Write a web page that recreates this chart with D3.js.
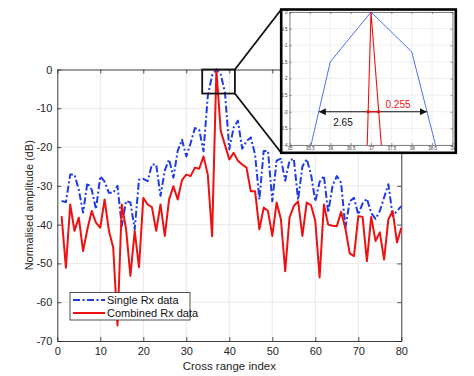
<!DOCTYPE html>
<html>
<head>
<meta charset="utf-8">
<script src="https://cdn.jsdelivr.net/npm/d3@7"></script>
<style>
  body { margin: 0; background: #fff; }
  text { font-family: "Liberation Sans", Arial, sans-serif; }
</style>
</head>
<body>
<svg id="chart" width="474" height="376"></svg>
<script>
// cross range index 1..80
const crossIndex = d3.range(1, 81);

const singleRx = [
  -33.9, -34.2, -27.1, -27.1, -31.0, -36.9, -29.2, -31.0, -36.0, -27.5,
  -28.9, -31.8, -31.8, -30.0, -40.4, -33.9, -34.3, -41.2, -28.4, -28.2,
  -28.8, -24.5, -24.5, -32.6, -26.0, -23.2, -27.9, -21.0, -18.1, -22.4,
  -19.0, -15.1, -15.5, -21.1, -6.8, -1.5, 0, -1.2, -6.0, -20.6,
  -15.0, -13.2, -20.4, -18.5, -17.5, -22.0, -33.5, -21.0, -21.0, -34.0,
  -23.5, -23.0, -28.7, -23.5, -23.0, -33.6, -25.0, -23.1, -27.0, -34.0,
  -29.0, -27.4, -36.9, -30.0, -27.5, -29.2, -40.8, -34.0, -33.1, -37.4,
  -34.5, -33.3, -37.0, -38.5, -36.5, -33.0, -29.6, -37.8, -36.5, -35.2
];

const combinedRx = [
  -37.8, -51.1, -34.8, -41.6, -38.2, -46.8, -41.2, -36.5, -39.5, -40.8,
  -33.5, -41.6, -45.9, -66.0, -34.8, -41.2, -53.2, -41.6, -51.0, -33.1,
  -34.8, -35.5, -41.6, -34.8, -42.9, -33.5, -30.1, -33.5, -28.5, -27.1,
  -27.5, -25.3, -25.6, -22.4, -27.1, -43.0, 0, -15.8, -19.5, -23.2,
  -21.5, -23.5, -24.5, -25.3, -31.4, -31.4, -41.2, -35.6, -36.5, -42.9,
  -34.3, -38.6, -52.0, -38.2, -35.2, -34.0, -42.9, -34.3, -35.0, -39.0,
  -53.6, -34.8, -40.0, -40.3, -40.4, -36.7, -41.0, -47.4, -48.1, -37.8,
  -38.0, -49.4, -38.0, -44.2, -42.0, -49.0, -38.6, -36.5, -44.6, -40.8
];

const xTicks = [0, 10, 20, 30, 40, 50, 60, 70, 80];
const yTicks = [0, -10, -20, -30, -40, -50, -60, -70];
const insetXTicks = [35, 35.5, 36, 36.5, 37, 37.5, 38, 38.5, 39];
const insetYTicks = [0, -0.5, -1, -1.5, -2, -2.5, -3, -3.5, -4];
const seriesNames = ["Single Rx data", "Combined Rx data"];

// zoomed region marked on the main plot
const zoomRegionX = [33.7, 41.3];
const zoomRegionY = [0, -6.2];

// -3 dB widths
const widthLevel = -3;
const singleWidth = [35.72, 38.37];
const combinedWidth = [36.93, 37.185];
const widthLabels = ["2.65", "0.255"];

const blue = "#1f3be6";
const red = "#ee1111";
const plain = d => String(d);   // hyphen minus, no trailing zeros

const svg = d3.select("#chart");

// ---------- main plot ----------
const x = d3.scaleLinear().domain([0, 80]).range([57.3, 401.3]);
const y = d3.scaleLinear().domain([-70, 0]).range([341, 69.5]);

const main = svg.append("g");

// grid
main.append("g").selectAll("line").data(xTicks.slice(1, -1)).join("line")
  .attr("x1", d => x(d)).attr("x2", d => x(d))
  .attr("y1", y(-70)).attr("y2", y(0))
  .attr("stroke", "#e4e4e4").attr("stroke-width", 0.8);
main.append("g").selectAll("line").data(yTicks.slice(1, -1)).join("line")
  .attr("x1", x(0)).attr("x2", x(80))
  .attr("y1", d => y(d)).attr("y2", d => y(d))
  .attr("stroke", "#e4e4e4").attr("stroke-width", 0.8);

function styleAxis(g) {
  g.selectAll("path.domain").attr("stroke", "#262626").attr("stroke-width", 0.9);
  g.selectAll(".tick line").attr("stroke", "#262626").attr("stroke-width", 0.8);
  g.selectAll("text").attr("fill", "#262626").attr("font-size", 11)
    .style("font-family", "'Liberation Sans', Arial, sans-serif");
}

main.append("g").attr("transform", `translate(0,${y(-70)})`)
  .call(d3.axisBottom(x).tickValues(xTicks).tickFormat(plain)
    .tickSizeInner(-4).tickSizeOuter(0).tickPadding(6))
  .call(styleAxis);
main.append("g").attr("transform", `translate(0,${y(0)})`)
  .call(d3.axisTop(x).tickValues(xTicks).tickSizeInner(-4).tickSizeOuter(0).tickFormat(""))
  .call(styleAxis);
main.append("g").attr("transform", `translate(${x(0)},0)`)
  .call(d3.axisLeft(y).tickValues(yTicks).tickFormat(plain)
    .tickSizeInner(-4).tickSizeOuter(0).tickPadding(5))
  .call(styleAxis);
main.append("g").attr("transform", `translate(${x(80)},0)`)
  .call(d3.axisRight(y).tickValues(yTicks).tickSizeInner(-4).tickSizeOuter(0).tickFormat(""))
  .call(styleAxis);

// axis titles
svg.append("text")
  .attr("x", (x(0) + x(80)) / 2).attr("y", 370)
  .attr("text-anchor", "middle").attr("font-size", 11.5).attr("fill", "#262626")
  .text("Cross range index");
svg.append("text")
  .attr("transform", `translate(33,${(y(0) + y(-70)) / 2}) rotate(-90)`)
  .attr("text-anchor", "middle").attr("font-size", 11).attr("fill", "#262626")
  .text("Normalised amplitude (dB)");

// series
const line = d3.line().x(d => x(d[0])).y(d => y(d[1]));
main.append("path")
  .datum(crossIndex.map((d, i) => [d, singleRx[i]]))
  .attr("d", line).attr("fill", "none")
  .attr("stroke", blue).attr("stroke-width", 2)
  .attr("stroke-dasharray", "7,2.5,2,2.5")
  .attr("stroke-linejoin", "round");
main.append("path")
  .datum(crossIndex.map((d, i) => [d, combinedRx[i]]))
  .attr("d", line).attr("fill", "none")
  .attr("stroke", red).attr("stroke-width", 2)
  .attr("stroke-linejoin", "round");

// legend
const legend = svg.append("g").attr("transform", "translate(70,292.5)");
legend.append("rect").attr("width", 120).attr("height", 27.5)
  .attr("fill", "#fff").attr("stroke", "#262626").attr("stroke-width", 0.8);
seriesNames.forEach((name, i) => {
  const ly = 7.5 + i * 13;
  legend.append("line").attr("x1", 3).attr("x2", 35).attr("y1", ly).attr("y2", ly)
    .attr("stroke", i === 0 ? blue : red).attr("stroke-width", 2)
    .attr("stroke-dasharray", i === 0 ? "7,2.5,2,2.5" : null);
  legend.append("text").attr("x", 37).attr("y", ly).attr("dy", "0.35em")
    .attr("font-size", 11).attr("fill", "#111").text(name);
});

// zoom region rectangle
svg.append("rect")
  .attr("x", x(zoomRegionX[0])).attr("y", y(zoomRegionY[0]))
  .attr("width", x(zoomRegionX[1]) - x(zoomRegionX[0]))
  .attr("height", y(zoomRegionY[1]) - y(zoomRegionY[0]))
  .attr("fill", "none").attr("stroke", "#111").attr("stroke-width", 1.8);

// ---------- inset ----------
const box = { left: 281.2, top: 9.5, right: 455.8, bottom: 152.8 };

svg.append("line")
  .attr("x1", x(zoomRegionX[1])).attr("y1", y(zoomRegionY[0]))
  .attr("x2", box.left).attr("y2", box.top)
  .attr("stroke", "#111").attr("stroke-width", 1.8);
svg.append("line")
  .attr("x1", x(zoomRegionX[1])).attr("y1", y(zoomRegionY[1]))
  .attr("x2", box.left).attr("y2", box.bottom)
  .attr("stroke", "#111").attr("stroke-width", 1.8);

const inset = svg.append("g");
inset.append("rect")
  .attr("x", box.left).attr("y", box.top)
  .attr("width", box.right - box.left).attr("height", box.bottom - box.top)
  .attr("fill", "#fff");

const ix = d3.scaleLinear().domain([35, 39]).range([289.5, 452.5]);
const iy = d3.scaleLinear().domain([-4, 0]).range([145, 12]);

inset.append("g").selectAll("line").data(insetXTicks).join("line")
  .attr("x1", d => ix(d)).attr("x2", d => ix(d))
  .attr("y1", iy(-4)).attr("y2", iy(0))
  .attr("stroke", "#e6e6e6").attr("stroke-width", 0.6);
inset.append("g").selectAll("line").data(insetYTicks).join("line")
  .attr("x1", ix(35)).attr("x2", ix(39))
  .attr("y1", d => iy(d)).attr("y2", d => iy(d))
  .attr("stroke", "#e6e6e6").attr("stroke-width", 0.6);

function styleInsetAxis(g) {
  g.selectAll("path.domain").attr("stroke", "#333").attr("stroke-width", 0.6);
  g.selectAll(".tick line").attr("stroke", "#333").attr("stroke-width", 0.5);
  g.selectAll("text").attr("fill", "#333").attr("font-size", 4.5)
    .style("font-family", "'Liberation Sans', Arial, sans-serif");
}
inset.append("g").attr("transform", `translate(0,${iy(-4)})`)
  .call(d3.axisBottom(ix).tickValues(insetXTicks).tickFormat(plain)
    .tickSizeInner(-2).tickSizeOuter(0).tickPadding(2))
  .call(styleInsetAxis);
inset.append("g").attr("transform", `translate(${ix(35)},0)`)
  .call(d3.axisLeft(iy).tickValues(insetYTicks).tickFormat(plain)
    .tickSizeInner(-2).tickSizeOuter(0).tickPadding(2))
  .call(styleInsetAxis);
inset.append("g").attr("transform", `translate(0,${iy(0)})`)
  .call(d3.axisTop(ix).tickValues(insetXTicks).tickSizeInner(-2).tickSizeOuter(0).tickFormat(""))
  .call(styleInsetAxis);
inset.append("g").attr("transform", `translate(${ix(39)},0)`)
  .call(d3.axisRight(iy).tickValues(insetYTicks).tickSizeInner(-2).tickSizeOuter(0).tickFormat(""))
  .call(styleInsetAxis);

svg.append("clipPath").attr("id", "insetClip").append("rect")
  .attr("x", ix(35)).attr("y", iy(0))
  .attr("width", ix(39) - ix(35)).attr("height", iy(-4) - iy(0));

const iline = d3.line().x(d => ix(d[0])).y(d => iy(d[1]));
const insetLines = inset.append("g").attr("clip-path", "url(#insetClip)");
insetLines.append("path")
  .datum(crossIndex.map((d, i) => [d, singleRx[i]]))
  .attr("d", iline).attr("fill", "none").attr("stroke", "#3d5cf0").attr("stroke-width", 0.9);
insetLines.append("path")
  .datum(crossIndex.map((d, i) => [d, combinedRx[i]]))
  .attr("d", iline).attr("fill", "none").attr("stroke", red).attr("stroke-width", 1.1);

// -3 dB width markers
const defs = svg.append("defs");
defs.append("marker").attr("id", "arrowEnd")
  .attr("viewBox", "0 0 10 10").attr("refX", 10).attr("refY", 5)
  .attr("markerWidth", 7).attr("markerHeight", 7).attr("markerUnits", "userSpaceOnUse")
  .attr("orient", "auto-start-reverse")
  .append("path").attr("d", "M0,0 L10,5 L0,10 z").attr("fill", "#111");

inset.append("line")
  .attr("x1", ix(singleWidth[0])).attr("x2", ix(singleWidth[1]))
  .attr("y1", iy(widthLevel)).attr("y2", iy(widthLevel))
  .attr("stroke", "#111").attr("stroke-width", 1.2)
  .attr("marker-start", "url(#arrowEnd)").attr("marker-end", "url(#arrowEnd)");
inset.append("line")
  .attr("x1", ix(combinedWidth[0])).attr("x2", ix(combinedWidth[1]))
  .attr("y1", iy(widthLevel)).attr("y2", iy(widthLevel))
  .attr("stroke", red).attr("stroke-width", 1.2);
inset.selectAll("circle.w").data(combinedWidth).join("circle")
  .attr("class", "w").attr("cx", d => ix(d)).attr("cy", iy(widthLevel))
  .attr("r", 1.8).attr("fill", red);

inset.append("text")
  .attr("x", 343).attr("y", iy(widthLevel) + 14)
  .attr("text-anchor", "middle").attr("font-size", 10).attr("fill", "#111")
  .text(widthLabels[0]);
inset.append("text")
  .attr("x", 398).attr("y", iy(widthLevel) - 4)
  .attr("text-anchor", "middle").attr("font-size", 10).attr("fill", red)
  .text(widthLabels[1]);

// thick frame
inset.append("rect")
  .attr("x", box.left).attr("y", box.top)
  .attr("width", box.right - box.left).attr("height", box.bottom - box.top)
  .attr("fill", "none").attr("stroke", "#000").attr("stroke-width", 2.6);
</script>
</body>
</html>
